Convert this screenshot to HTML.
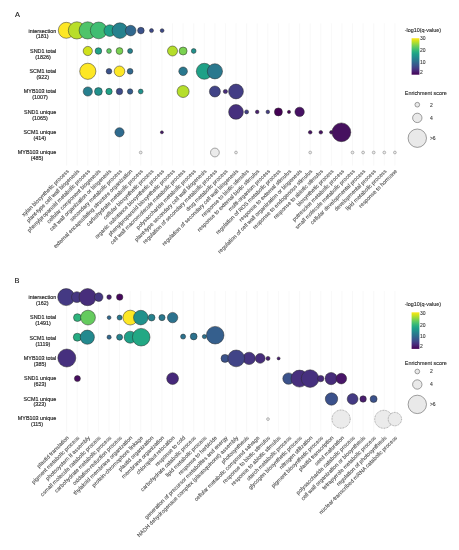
<!DOCTYPE html>
<html lang="en"><head><meta charset="utf-8"><title>GO enrichment dot plot</title>
<style>html,body{margin:0;padding:0;background:#fff}svg{display:block}</style></head>
<body>
<svg width="459" height="550" viewBox="0 0 459 550" font-family="'Liberation Sans', Arial, sans-serif">
<defs><linearGradient id="vir" x1="0" y1="1" x2="0" y2="0">
<stop offset="0.00" stop-color="#440154"/>
<stop offset="0.05" stop-color="#471365"/>
<stop offset="0.10" stop-color="#482475"/>
<stop offset="0.15" stop-color="#463480"/>
<stop offset="0.20" stop-color="#414487"/>
<stop offset="0.25" stop-color="#3b528b"/>
<stop offset="0.30" stop-color="#355f8d"/>
<stop offset="0.35" stop-color="#2f6c8e"/>
<stop offset="0.40" stop-color="#2a788e"/>
<stop offset="0.45" stop-color="#25848e"/>
<stop offset="0.50" stop-color="#21918c"/>
<stop offset="0.55" stop-color="#1e9c89"/>
<stop offset="0.60" stop-color="#22a884"/>
<stop offset="0.65" stop-color="#2fb47c"/>
<stop offset="0.70" stop-color="#44bf70"/>
<stop offset="0.75" stop-color="#5ec962"/>
<stop offset="0.80" stop-color="#7ad151"/>
<stop offset="0.85" stop-color="#9bd93c"/>
<stop offset="0.90" stop-color="#bddf26"/>
<stop offset="0.95" stop-color="#dfe318"/>
<stop offset="1.00" stop-color="#fde725"/>
</linearGradient></defs>
<rect width="459" height="550" fill="#ffffff"/>
<g stroke="#f0f0f0" stroke-width="0.5">
<line x1="66.6" y1="23.3" x2="66.6" y2="165.6"/>
<line x1="77.2" y1="23.3" x2="77.2" y2="165.6"/>
<line x1="87.8" y1="23.3" x2="87.8" y2="165.6"/>
<line x1="98.4" y1="23.3" x2="98.4" y2="165.6"/>
<line x1="109.0" y1="23.3" x2="109.0" y2="165.6"/>
<line x1="119.5" y1="23.3" x2="119.5" y2="165.6"/>
<line x1="130.1" y1="23.3" x2="130.1" y2="165.6"/>
<line x1="140.7" y1="23.3" x2="140.7" y2="165.6"/>
<line x1="151.3" y1="23.3" x2="151.3" y2="165.6"/>
<line x1="161.9" y1="23.3" x2="161.9" y2="165.6"/>
<line x1="172.5" y1="23.3" x2="172.5" y2="165.6"/>
<line x1="183.1" y1="23.3" x2="183.1" y2="165.6"/>
<line x1="193.7" y1="23.3" x2="193.7" y2="165.6"/>
<line x1="204.3" y1="23.3" x2="204.3" y2="165.6"/>
<line x1="214.9" y1="23.3" x2="214.9" y2="165.6"/>
<line x1="225.4" y1="23.3" x2="225.4" y2="165.6"/>
<line x1="236.0" y1="23.3" x2="236.0" y2="165.6"/>
<line x1="246.6" y1="23.3" x2="246.6" y2="165.6"/>
<line x1="257.2" y1="23.3" x2="257.2" y2="165.6"/>
<line x1="267.8" y1="23.3" x2="267.8" y2="165.6"/>
<line x1="278.4" y1="23.3" x2="278.4" y2="165.6"/>
<line x1="289.0" y1="23.3" x2="289.0" y2="165.6"/>
<line x1="299.6" y1="23.3" x2="299.6" y2="165.6"/>
<line x1="310.2" y1="23.3" x2="310.2" y2="165.6"/>
<line x1="320.8" y1="23.3" x2="320.8" y2="165.6"/>
<line x1="331.4" y1="23.3" x2="331.4" y2="165.6"/>
<line x1="341.9" y1="23.3" x2="341.9" y2="165.6"/>
<line x1="352.5" y1="23.3" x2="352.5" y2="165.6"/>
<line x1="363.1" y1="23.3" x2="363.1" y2="165.6"/>
<line x1="373.7" y1="23.3" x2="373.7" y2="165.6"/>
<line x1="384.3" y1="23.3" x2="384.3" y2="165.6"/>
<line x1="394.9" y1="23.3" x2="394.9" y2="165.6"/>
</g>
<text x="14.9" y="16.7" font-size="7.4" fill="#222" stroke="#222" stroke-width="0.15">A</text>
<g font-size="5.4" fill="#2b2b2b" stroke="#2b2b2b" stroke-width="0.18" text-anchor="middle">
<text x="42.39" y="32.5">intersection</text>
<text x="42.39" y="38.3">(181)</text>
<text x="43.14" y="52.9">SND1 total</text>
<text x="43.14" y="58.7">(1826)</text>
<text x="42.85" y="73.2">SCM1 total</text>
<text x="42.85" y="79.0">(922)</text>
<text x="39.99" y="93.4">MYB103 total</text>
<text x="39.99" y="99.2">(1007)</text>
<text x="40.14" y="113.8">SND1 unique</text>
<text x="40.14" y="119.6">(1065)</text>
<text x="39.84" y="134.2">SCM1 unique</text>
<text x="39.84" y="140.0">(414)</text>
<text x="36.99" y="154.4">MYB103 unique</text>
<text x="36.99" y="160.2">(485)</text>
</g>
<circle cx="66.3" cy="30.3" r="8.0" fill="#fde725" stroke="#2b2b2b" stroke-width="0.5"/>
<circle cx="76.9" cy="30.4" r="8.6" fill="#b8de29" stroke="#2b2b2b" stroke-width="0.5"/>
<circle cx="87.7" cy="30.4" r="8.6" fill="#50c46a" stroke="#2b2b2b" stroke-width="0.5"/>
<circle cx="98.7" cy="30.4" r="8.4" fill="#40bd72" stroke="#2b2b2b" stroke-width="0.5"/>
<circle cx="109.8" cy="30.6" r="5.8" fill="#1fa187" stroke="#2b2b2b" stroke-width="0.5"/>
<circle cx="119.9" cy="30.6" r="7.8" fill="#26828e" stroke="#2b2b2b" stroke-width="0.5"/>
<circle cx="130.7" cy="30.6" r="5.3" fill="#31688e" stroke="#2b2b2b" stroke-width="0.5"/>
<circle cx="140.9" cy="30.6" r="3.3" fill="#3b528b" stroke="#2b2b2b" stroke-width="0.5"/>
<circle cx="151.5" cy="30.6" r="2.0" fill="#3e4989" stroke="#2b2b2b" stroke-width="0.5"/>
<circle cx="162.1" cy="30.6" r="1.9" fill="#3e4989" stroke="#2b2b2b" stroke-width="0.5"/>
<circle cx="87.8" cy="51.0" r="4.6" fill="#d0e11c" stroke="#2b2b2b" stroke-width="0.5"/>
<circle cx="98.4" cy="51.0" r="3.3" fill="#1fa187" stroke="#2b2b2b" stroke-width="0.5"/>
<circle cx="109.0" cy="51.0" r="2.4" fill="#5ec962" stroke="#2b2b2b" stroke-width="0.5"/>
<circle cx="119.5" cy="51.0" r="3.4" fill="#7ad151" stroke="#2b2b2b" stroke-width="0.5"/>
<circle cx="130.1" cy="51.0" r="2.5" fill="#26828e" stroke="#2b2b2b" stroke-width="0.5"/>
<circle cx="172.5" cy="51.0" r="5.0" fill="#b5de2b" stroke="#2b2b2b" stroke-width="0.5"/>
<circle cx="183.1" cy="51.0" r="4.0" fill="#7ad151" stroke="#2b2b2b" stroke-width="0.5"/>
<circle cx="193.7" cy="51.0" r="2.4" fill="#21918c" stroke="#2b2b2b" stroke-width="0.5"/>
<circle cx="87.8" cy="71.3" r="8.1" fill="#fde725" stroke="#2b2b2b" stroke-width="0.5"/>
<circle cx="109.0" cy="71.3" r="2.8" fill="#3b528b" stroke="#2b2b2b" stroke-width="0.5"/>
<circle cx="119.5" cy="71.3" r="5.3" fill="#fde725" stroke="#2b2b2b" stroke-width="0.5"/>
<circle cx="130.1" cy="71.3" r="2.9" fill="#31688e" stroke="#2b2b2b" stroke-width="0.5"/>
<circle cx="183.1" cy="71.3" r="4.3" fill="#2a788e" stroke="#2b2b2b" stroke-width="0.5"/>
<circle cx="204.3" cy="71.3" r="8.0" fill="#1fa187" stroke="#2b2b2b" stroke-width="0.5"/>
<circle cx="214.9" cy="71.3" r="7.6" fill="#2a788e" stroke="#2b2b2b" stroke-width="0.5"/>
<circle cx="87.8" cy="91.5" r="4.6" fill="#277f8e" stroke="#2b2b2b" stroke-width="0.5"/>
<circle cx="98.4" cy="91.5" r="3.9" fill="#21918c" stroke="#2b2b2b" stroke-width="0.5"/>
<circle cx="109.0" cy="91.5" r="3.2" fill="#1fa187" stroke="#2b2b2b" stroke-width="0.5"/>
<circle cx="119.5" cy="91.5" r="3.2" fill="#3e4c8a" stroke="#2b2b2b" stroke-width="0.5"/>
<circle cx="130.1" cy="91.5" r="2.7" fill="#365c8d" stroke="#2b2b2b" stroke-width="0.5"/>
<circle cx="140.7" cy="91.5" r="2.4" fill="#21918c" stroke="#2b2b2b" stroke-width="0.5"/>
<circle cx="183.1" cy="91.5" r="6.0" fill="#b5de2b" stroke="#2b2b2b" stroke-width="0.5"/>
<circle cx="214.9" cy="91.5" r="5.5" fill="#414487" stroke="#2b2b2b" stroke-width="0.5"/>
<circle cx="225.4" cy="91.5" r="2.1" fill="#472d7b" stroke="#2b2b2b" stroke-width="0.5"/>
<circle cx="236.0" cy="91.5" r="7.4" fill="#433e85" stroke="#2b2b2b" stroke-width="0.5"/>
<circle cx="236.0" cy="111.9" r="7.4" fill="#46307e" stroke="#2b2b2b" stroke-width="0.5"/>
<circle cx="246.6" cy="111.9" r="2.0" fill="#423f85" stroke="#2b2b2b" stroke-width="0.5"/>
<circle cx="257.2" cy="111.9" r="1.8" fill="#481f70" stroke="#2b2b2b" stroke-width="0.5"/>
<circle cx="267.8" cy="111.9" r="1.8" fill="#433e85" stroke="#2b2b2b" stroke-width="0.5"/>
<circle cx="278.4" cy="111.9" r="4.0" fill="#440154" stroke="#2b2b2b" stroke-width="0.5"/>
<circle cx="289.0" cy="111.9" r="1.6" fill="#440154" stroke="#2b2b2b" stroke-width="0.5"/>
<circle cx="299.6" cy="111.9" r="4.7" fill="#471164" stroke="#2b2b2b" stroke-width="0.5"/>
<circle cx="119.5" cy="132.3" r="4.6" fill="#2f6b8e" stroke="#2b2b2b" stroke-width="0.5"/>
<circle cx="161.9" cy="132.3" r="1.5" fill="#46186a" stroke="#2b2b2b" stroke-width="0.5"/>
<circle cx="310.2" cy="132.3" r="1.8" fill="#471164" stroke="#2b2b2b" stroke-width="0.5"/>
<circle cx="320.8" cy="132.3" r="1.8" fill="#471164" stroke="#2b2b2b" stroke-width="0.5"/>
<circle cx="331.4" cy="132.3" r="1.8" fill="#471164" stroke="#2b2b2b" stroke-width="0.5"/>
<circle cx="341.4" cy="132.3" r="9.4" fill="#46115f" stroke="#2b2b2b" stroke-width="0.5"/>
<circle cx="140.7" cy="152.5" r="1.4" fill="#ebebeb" stroke="#6e6e6e" stroke-width="0.45"/>
<circle cx="214.9" cy="152.5" r="4.4" fill="#ebebeb" stroke="#6e6e6e" stroke-width="0.6"/>
<circle cx="236.0" cy="152.5" r="1.4" fill="#ebebeb" stroke="#6e6e6e" stroke-width="0.45"/>
<circle cx="310.2" cy="152.5" r="1.4" fill="#ebebeb" stroke="#6e6e6e" stroke-width="0.45"/>
<circle cx="352.5" cy="152.5" r="1.4" fill="#ebebeb" stroke="#6e6e6e" stroke-width="0.45"/>
<circle cx="363.1" cy="152.5" r="1.4" fill="#ebebeb" stroke="#6e6e6e" stroke-width="0.45"/>
<circle cx="373.7" cy="152.5" r="1.4" fill="#ebebeb" stroke="#6e6e6e" stroke-width="0.45"/>
<circle cx="384.3" cy="152.5" r="1.4" fill="#ebebeb" stroke="#6e6e6e" stroke-width="0.45"/>
<circle cx="394.9" cy="152.5" r="1.4" fill="#ebebeb" stroke="#6e6e6e" stroke-width="0.45"/>
<g font-size="5.48" fill="#545454" stroke="#545454" stroke-width="0.12" text-anchor="end">
<text transform="translate(69.2,171.6) rotate(-45)">xylan biosynthetic process</text>
<text transform="translate(79.8,171.6) rotate(-45)">plant-type cell wall biogenesis</text>
<text transform="translate(90.4,171.6) rotate(-45)">phenylpropanoid metabolic process</text>
<text transform="translate(101.0,171.6) rotate(-45)">cellular component biogenesis</text>
<text transform="translate(111.6,171.6) rotate(-45)">cell wall organization or biogenesis</text>
<text transform="translate(122.1,171.6) rotate(-45)">secondary metabolic process</text>
<text transform="translate(132.7,171.6) rotate(-45)">external encapsulating structure organization</text>
<text transform="translate(143.3,171.6) rotate(-45)">carbohydrate metabolic process</text>
<text transform="translate(153.9,171.6) rotate(-45)">cellular biosynthetic process</text>
<text transform="translate(164.5,171.6) rotate(-45)">organic substance biosynthetic process</text>
<text transform="translate(175.1,171.6) rotate(-45)">phenylpropanoid biosynthetic process</text>
<text transform="translate(185.7,171.6) rotate(-45)">cell wall macromolecule metabolic process</text>
<text transform="translate(196.3,171.6) rotate(-45)">polysaccharide metabolic process</text>
<text transform="translate(206.9,171.6) rotate(-45)">plant-type secondary cell wall biogenesis</text>
<text transform="translate(217.5,171.6) rotate(-45)">regulation of secondary metabolic process</text>
<text transform="translate(228.0,171.6) rotate(-45)">drug metabolic process</text>
<text transform="translate(238.6,171.6) rotate(-45)">regulation of secondary cell wall biogenesis</text>
<text transform="translate(249.2,171.6) rotate(-45)">response to biotic stimulus</text>
<text transform="translate(259.8,171.6) rotate(-45)">response to external biotic stimulus</text>
<text transform="translate(270.4,171.6) rotate(-45)">multi-organism process</text>
<text transform="translate(281.0,171.6) rotate(-45)">regulation of ROS metabolic process</text>
<text transform="translate(291.6,171.6) rotate(-45)">response to external stimulus</text>
<text transform="translate(302.2,171.6) rotate(-45)">regulation of cell wall organization or biogenesis</text>
<text transform="translate(312.8,171.6) rotate(-45)">response to endogenous stimulus</text>
<text transform="translate(323.4,171.6) rotate(-45)">response to abiotic stimulus</text>
<text transform="translate(334.0,171.6) rotate(-45)">biosynthetic process</text>
<text transform="translate(344.5,171.6) rotate(-45)">putrescine metabolic process</text>
<text transform="translate(355.1,171.6) rotate(-45)">small molecule metabolic process</text>
<text transform="translate(365.7,171.6) rotate(-45)">cellular developmental process</text>
<text transform="translate(376.3,171.6) rotate(-45)">developmental process</text>
<text transform="translate(386.9,171.6) rotate(-45)">lipid metabolic process</text>
<text transform="translate(397.5,171.6) rotate(-45)">response to hormone</text>
</g>
<text x="404.8" y="31.5" font-size="5.4" fill="#2b2b2b" stroke="#2b2b2b" stroke-width="0.12">-log10(q-value)</text>
<rect x="411.6" y="38.2" width="7.8" height="36.5" fill="url(#vir)"/>
<g font-size="5.0" fill="#333" stroke="#333" stroke-width="0.08">
<text x="419.9" y="40.10">30</text>
<text x="419.9" y="52.20">20</text>
<text x="419.9" y="63.50">10</text>
<text x="419.9" y="74.00">2</text>
</g>
<text x="404.8" y="94.9" font-size="5.4" fill="#2b2b2b" stroke="#2b2b2b" stroke-width="0.12">Enrichment score</text>
<circle cx="417.3" cy="104.7" r="2.35" fill="#e9e9e9" stroke="#444" stroke-width="0.5"/>
<circle cx="417.3" cy="117.9" r="4.7" fill="#e9e9e9" stroke="#444" stroke-width="0.5"/>
<circle cx="417.3" cy="138.2" r="9.2" fill="#e9e9e9" stroke="#444" stroke-width="0.5"/>
<g font-size="5.0" fill="#333" stroke="#333" stroke-width="0.08">
<text x="429.9" y="106.50">2</text>
<text x="429.9" y="119.70">4</text>
<text x="429.9" y="140.00">&gt;6</text>
</g>
<g stroke="#f0f0f0" stroke-width="0.5">
<line x1="66.6" y1="291.0" x2="66.6" y2="432.2"/>
<line x1="77.2" y1="291.0" x2="77.2" y2="432.2"/>
<line x1="87.8" y1="291.0" x2="87.8" y2="432.2"/>
<line x1="98.4" y1="291.0" x2="98.4" y2="432.2"/>
<line x1="109.0" y1="291.0" x2="109.0" y2="432.2"/>
<line x1="119.5" y1="291.0" x2="119.5" y2="432.2"/>
<line x1="130.1" y1="291.0" x2="130.1" y2="432.2"/>
<line x1="140.7" y1="291.0" x2="140.7" y2="432.2"/>
<line x1="151.3" y1="291.0" x2="151.3" y2="432.2"/>
<line x1="161.9" y1="291.0" x2="161.9" y2="432.2"/>
<line x1="172.5" y1="291.0" x2="172.5" y2="432.2"/>
<line x1="183.1" y1="291.0" x2="183.1" y2="432.2"/>
<line x1="193.7" y1="291.0" x2="193.7" y2="432.2"/>
<line x1="204.3" y1="291.0" x2="204.3" y2="432.2"/>
<line x1="214.9" y1="291.0" x2="214.9" y2="432.2"/>
<line x1="225.4" y1="291.0" x2="225.4" y2="432.2"/>
<line x1="236.0" y1="291.0" x2="236.0" y2="432.2"/>
<line x1="246.6" y1="291.0" x2="246.6" y2="432.2"/>
<line x1="257.2" y1="291.0" x2="257.2" y2="432.2"/>
<line x1="267.8" y1="291.0" x2="267.8" y2="432.2"/>
<line x1="278.4" y1="291.0" x2="278.4" y2="432.2"/>
<line x1="289.0" y1="291.0" x2="289.0" y2="432.2"/>
<line x1="299.6" y1="291.0" x2="299.6" y2="432.2"/>
<line x1="310.2" y1="291.0" x2="310.2" y2="432.2"/>
<line x1="320.8" y1="291.0" x2="320.8" y2="432.2"/>
<line x1="331.4" y1="291.0" x2="331.4" y2="432.2"/>
<line x1="341.9" y1="291.0" x2="341.9" y2="432.2"/>
<line x1="352.5" y1="291.0" x2="352.5" y2="432.2"/>
<line x1="363.1" y1="291.0" x2="363.1" y2="432.2"/>
<line x1="373.7" y1="291.0" x2="373.7" y2="432.2"/>
<line x1="384.3" y1="291.0" x2="384.3" y2="432.2"/>
<line x1="394.9" y1="291.0" x2="394.9" y2="432.2"/>
</g>
<text x="14.5" y="282.6" font-size="7.4" fill="#222" stroke="#222" stroke-width="0.15">B</text>
<g font-size="5.4" fill="#2b2b2b" stroke="#2b2b2b" stroke-width="0.18" text-anchor="middle">
<text x="42.39" y="298.9">intersection</text>
<text x="42.39" y="304.7">(162)</text>
<text x="43.14" y="319.4">SND1 total</text>
<text x="43.14" y="325.2">(1491)</text>
<text x="42.85" y="339.8">SCM1 total</text>
<text x="42.85" y="345.6">(1119)</text>
<text x="39.99" y="359.8">MYB103 total</text>
<text x="39.99" y="365.6">(385)</text>
<text x="40.14" y="380.1">SND1 unique</text>
<text x="40.14" y="385.9">(623)</text>
<text x="39.84" y="400.5">SCM1 unique</text>
<text x="39.84" y="406.3">(323)</text>
<text x="36.99" y="420.4">MYB103 unique</text>
<text x="36.99" y="426.2">(115)</text>
</g>
<circle cx="66.2" cy="297.1" r="8.5" fill="#443983" stroke="#2b2b2b" stroke-width="0.5"/>
<circle cx="76.9" cy="297.1" r="5.4" fill="#453781" stroke="#2b2b2b" stroke-width="0.5"/>
<circle cx="87.6" cy="297.1" r="8.6" fill="#472d7b" stroke="#2b2b2b" stroke-width="0.5"/>
<circle cx="98.7" cy="297.1" r="4.3" fill="#453781" stroke="#2b2b2b" stroke-width="0.5"/>
<circle cx="109.1" cy="297.1" r="2.3" fill="#481f70" stroke="#2b2b2b" stroke-width="0.5"/>
<circle cx="119.7" cy="297.1" r="3.2" fill="#46085c" stroke="#2b2b2b" stroke-width="0.5"/>
<circle cx="77.4" cy="317.6" r="3.9" fill="#2eb37c" stroke="#2b2b2b" stroke-width="0.5"/>
<circle cx="88.0" cy="317.6" r="7.4" fill="#65cb5e" stroke="#2b2b2b" stroke-width="0.5"/>
<circle cx="109.1" cy="317.6" r="1.9" fill="#31688e" stroke="#2b2b2b" stroke-width="0.5"/>
<circle cx="119.6" cy="317.6" r="2.5" fill="#2a788e" stroke="#2b2b2b" stroke-width="0.5"/>
<circle cx="130.3" cy="317.6" r="7.4" fill="#fde725" stroke="#2b2b2b" stroke-width="0.5"/>
<circle cx="140.8" cy="317.6" r="7.3" fill="#21918c" stroke="#2b2b2b" stroke-width="0.5"/>
<circle cx="151.6" cy="317.6" r="3.4" fill="#26828e" stroke="#2b2b2b" stroke-width="0.5"/>
<circle cx="162.0" cy="317.6" r="3.1" fill="#2a788e" stroke="#2b2b2b" stroke-width="0.5"/>
<circle cx="172.6" cy="317.6" r="5.2" fill="#2c728e" stroke="#2b2b2b" stroke-width="0.5"/>
<circle cx="77.3" cy="337.2" r="4.0" fill="#25ab82" stroke="#2b2b2b" stroke-width="0.5"/>
<circle cx="87.3" cy="337.2" r="7.1" fill="#23898e" stroke="#2b2b2b" stroke-width="0.5"/>
<circle cx="109.1" cy="337.2" r="2.1" fill="#31688e" stroke="#2b2b2b" stroke-width="0.5"/>
<circle cx="119.6" cy="337.2" r="3.0" fill="#26828e" stroke="#2b2b2b" stroke-width="0.5"/>
<circle cx="130.2" cy="337.2" r="6.0" fill="#1fa187" stroke="#2b2b2b" stroke-width="0.5"/>
<circle cx="141.2" cy="337.2" r="8.8" fill="#22a884" stroke="#2b2b2b" stroke-width="0.5"/>
<circle cx="183.1" cy="336.6" r="2.5" fill="#2c728e" stroke="#2b2b2b" stroke-width="0.5"/>
<circle cx="193.7" cy="336.5" r="3.4" fill="#2c728e" stroke="#2b2b2b" stroke-width="0.5"/>
<circle cx="204.4" cy="336.6" r="2.1" fill="#2c728e" stroke="#2b2b2b" stroke-width="0.5"/>
<circle cx="215.2" cy="335.2" r="8.8" fill="#355f8d" stroke="#2b2b2b" stroke-width="0.5"/>
<circle cx="66.8" cy="358.0" r="9.0" fill="#46307e" stroke="#2b2b2b" stroke-width="0.5"/>
<circle cx="225.0" cy="358.4" r="4.0" fill="#3b528b" stroke="#2b2b2b" stroke-width="0.5"/>
<circle cx="249.1" cy="358.4" r="6.2" fill="#463480" stroke="#2b2b2b" stroke-width="0.5"/>
<circle cx="236.2" cy="358.4" r="8.4" fill="#414487" stroke="#2b2b2b" stroke-width="0.5"/>
<circle cx="260.2" cy="358.4" r="4.9" fill="#472d7b" stroke="#2b2b2b" stroke-width="0.5"/>
<circle cx="268.0" cy="358.4" r="2.0" fill="#481f70" stroke="#2b2b2b" stroke-width="0.5"/>
<circle cx="278.6" cy="358.4" r="1.5" fill="#481f70" stroke="#2b2b2b" stroke-width="0.5"/>
<circle cx="77.4" cy="378.6" r="3.0" fill="#470d60" stroke="#2b2b2b" stroke-width="0.5"/>
<circle cx="172.6" cy="378.6" r="5.9" fill="#46287a" stroke="#2b2b2b" stroke-width="0.5"/>
<circle cx="288.5" cy="378.6" r="5.7" fill="#3b528b" stroke="#2b2b2b" stroke-width="0.5"/>
<circle cx="299.5" cy="378.6" r="8.5" fill="#472f7d" stroke="#2b2b2b" stroke-width="0.5"/>
<circle cx="310.1" cy="378.6" r="8.8" fill="#46307e" stroke="#2b2b2b" stroke-width="0.5"/>
<circle cx="320.7" cy="378.6" r="3.2" fill="#472a7a" stroke="#2b2b2b" stroke-width="0.5"/>
<circle cx="331.1" cy="378.6" r="6.1" fill="#472c7a" stroke="#2b2b2b" stroke-width="0.5"/>
<circle cx="341.3" cy="378.6" r="5.3" fill="#481568" stroke="#2b2b2b" stroke-width="0.5"/>
<circle cx="331.5" cy="399.0" r="6.2" fill="#3b518b" stroke="#2b2b2b" stroke-width="0.5"/>
<circle cx="352.6" cy="399.0" r="5.4" fill="#443a83" stroke="#2b2b2b" stroke-width="0.5"/>
<circle cx="363.1" cy="399.0" r="3.2" fill="#481d6f" stroke="#2b2b2b" stroke-width="0.5"/>
<circle cx="373.6" cy="399.0" r="3.5" fill="#3b518b" stroke="#2b2b2b" stroke-width="0.5"/>
<circle cx="268.0" cy="419.1" r="1.4" fill="#ebebeb" stroke="#6e6e6e" stroke-width="0.45"/>
<circle cx="341.1" cy="419.1" r="9.1" fill="#ebebeb" stroke="#6e6e6e" stroke-width="0.6" stroke-dasharray="0.9 0.7"/>
<circle cx="383.7" cy="419.3" r="9.0" fill="#ebebeb" stroke="#6e6e6e" stroke-width="0.6" stroke-dasharray="0.9 0.7"/>
<circle cx="394.9" cy="419.1" r="6.7" fill="#ebebeb" stroke="#6e6e6e" stroke-width="0.6" stroke-dasharray="0.9 0.7"/>
<g font-size="5.48" fill="#545454" stroke="#545454" stroke-width="0.12" text-anchor="end">
<text transform="translate(69.2,438.2) rotate(-45)">plastid translation</text>
<text transform="translate(79.8,438.2) rotate(-45)">pigment metabolic process</text>
<text transform="translate(90.4,438.2) rotate(-45)">photosystem II assembly</text>
<text transform="translate(101.0,438.2) rotate(-45)">csmall molecule catabolic process</text>
<text transform="translate(111.6,438.2) rotate(-45)">carbohydrate metabolic process</text>
<text transform="translate(122.1,438.2) rotate(-45)">oxidation-reduction process</text>
<text transform="translate(132.7,438.2) rotate(-45)">thylakoid membrane organization</text>
<text transform="translate(143.3,438.2) rotate(-45)">protein-chromophore linkage</text>
<text transform="translate(153.9,438.2) rotate(-45)">plastid organization</text>
<text transform="translate(164.5,438.2) rotate(-45)">membrane organization</text>
<text transform="translate(175.1,438.2) rotate(-45)">chloroplast relocation</text>
<text transform="translate(185.7,438.2) rotate(-45)">response to cold</text>
<text transform="translate(196.3,438.2) rotate(-45)">carbohydrate catabolic process</text>
<text transform="translate(206.9,438.2) rotate(-45)">lipid metabolic process</text>
<text transform="translate(217.5,438.2) rotate(-45)">response to herbicide</text>
<text transform="translate(228.0,438.2) rotate(-45)">generation of precursor metabolites and energy</text>
<text transform="translate(238.6,438.2) rotate(-45)">NADH dehydrogenase complex (plastoquinone) assembly</text>
<text transform="translate(249.2,438.2) rotate(-45)">photosynthesis</text>
<text transform="translate(259.8,438.2) rotate(-45)">cellular metabolic compound salvage</text>
<text transform="translate(270.4,438.2) rotate(-45)">response to biotic stimulus</text>
<text transform="translate(281.0,438.2) rotate(-45)">response to abiotic stimulus</text>
<text transform="translate(291.6,438.2) rotate(-45)">starch metabolic process</text>
<text transform="translate(302.2,438.2) rotate(-45)">glycogen biosynthetic process</text>
<text transform="translate(312.8,438.2) rotate(-45)">nitrogen utilization</text>
<text transform="translate(323.4,438.2) rotate(-45)">pigment biosynthetic process</text>
<text transform="translate(334.0,438.2) rotate(-45)">plastid transcription</text>
<text transform="translate(344.5,438.2) rotate(-45)">seed maturation</text>
<text transform="translate(355.1,438.2) rotate(-45)">polysaccharide catabolic process</text>
<text transform="translate(365.7,438.2) rotate(-45)">cell wall organization or biosynthesis</text>
<text transform="translate(376.3,438.2) rotate(-45)">tetrapyrrole metabolic process</text>
<text transform="translate(386.9,438.2) rotate(-45)">regulation of photosynthesis</text>
<text transform="translate(397.5,438.2) rotate(-45)">nuclear-transcribed mRNA catabolic process</text>
</g>
<text x="404.8" y="305.5" font-size="5.4" fill="#2b2b2b" stroke="#2b2b2b" stroke-width="0.12">-log10(q-value)</text>
<rect x="411.6" y="312.3" width="7.8" height="36.6" fill="url(#vir)"/>
<g font-size="5.0" fill="#333" stroke="#333" stroke-width="0.08">
<text x="419.9" y="314.50">30</text>
<text x="419.9" y="326.60">20</text>
<text x="419.9" y="338.40">10</text>
<text x="419.9" y="348.40">2</text>
</g>
<text x="404.8" y="364.6" font-size="5.4" fill="#2b2b2b" stroke="#2b2b2b" stroke-width="0.12">Enrichment score</text>
<circle cx="417.3" cy="371.5" r="2.35" fill="#e9e9e9" stroke="#444" stroke-width="0.5"/>
<circle cx="417.3" cy="384.5" r="4.7" fill="#e9e9e9" stroke="#444" stroke-width="0.5"/>
<circle cx="417.3" cy="404.4" r="9.2" fill="#e9e9e9" stroke="#444" stroke-width="0.5"/>
<g font-size="5.0" fill="#333" stroke="#333" stroke-width="0.08">
<text x="429.9" y="373.30">2</text>
<text x="429.9" y="386.30">4</text>
<text x="429.9" y="406.20">&gt;6</text>
</g>
</svg>
</body></html>
